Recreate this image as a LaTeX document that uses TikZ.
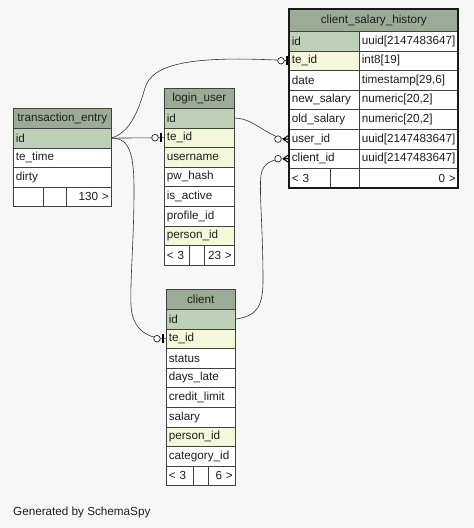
\documentclass[tikz,border=0pt]{standalone}
\usepackage{fontspec}
\setmainfont{Liberation Sans}
\definecolor{bgcol}{HTML}{F7F7F7}
\definecolor{hdrcol}{HTML}{9BAB96}
\definecolor{pkcol}{HTML}{BED1B8}
\definecolor{idxcol}{HTML}{F4F7DA}
\definecolor{inkcol}{HTML}{1E1E1E}
\tikzset{
  cell/.style={draw=black!75, line width=0.6pt, anchor=north west,
    inner xsep=2.5pt, inner ysep=0pt, minimum height=19.6pt,
    text width=#1, align=left, text=inkcol, fill=white,
    font=\fontsize{11.7}{13}\selectfont},
  hdr/.style={cell=#1, align=center, fill=hdrcol, minimum height=20pt},
  conn/.style={draw=black!80, line width=0.6pt},
  ring/.style={draw=black!85, line width=0.7pt, fill=white},
  onebar/.style={draw=black, line width=2pt},
  crow/.style={draw=black, line width=1pt}
}
\begin{document}
\begin{tikzpicture}[x=1pt,y=-1pt]
  \fill[bgcol] (0,0) rectangle (474,528);

  % transaction_entry
  \node[hdr=93pt] (te) at (13,108) {transaction\_entry};
  \foreach \t/\c [count=\i] in {id/pkcol, te\_time/white, dirty/white}
    \node[cell=93pt, fill=\c] (te-\i) at (13,{128+(\i-1)*19.6}) {\t};
  \node[cell=25pt] (te-f1) at (13,186.8) {};
  \node[cell=18pt] (te-f2) at (43,186.8) {};
  \node[cell=40pt, align=right] (te-f3) at (66,186.8) {130 >};

  % login_user
  \node[hdr=65pt] (lu) at (164,88) {login\_user};
  \foreach \t/\c [count=\i] in {id/pkcol, te\_id/idxcol, username/idxcol,
      pw\_hash/white, is\_active/white, profile\_id/white, person\_id/idxcol}
    \node[cell=65pt, fill=\c] (lu-\i) at (164,{108+(\i-1)*19.6}) {\t};
  \node[cell=20pt] (lu-f1) at (164,245.2) {< 3};
  \node[cell=10pt] (lu-f2) at (189,245.2) {};
  \node[cell=25pt, align=right] (lu-f3) at (204,245.2) {23 >};

  % client
  \node[hdr=64pt] (cl) at (166,289) {client};
  \foreach \t/\c [count=\i] in {id/pkcol, te\_id/idxcol, status/white,
      days\_late/white, credit\_limit/white, salary/white, person\_id/idxcol,
      category\_id/white}
    \node[cell=64pt, fill=\c] (cl-\i) at (166,{309+(\i-1)*19.6}) {\t};
  \node[cell=22pt] (cl-f1) at (166,465.8) {< 3};
  \node[cell=10pt] (cl-f2) at (193,465.8) {};
  \node[cell=22pt, align=right] (cl-f3) at (208,465.8) {6 >};

  % client_salary_history
  \node[hdr=164pt, minimum height=22pt] (csh) at (289,9) {client\_salary\_history};
  \foreach \t/\ty/\c [count=\i] in {id/uuid[2147483647]/pkcol,
      te\_id/int8[19]/idxcol, date/{timestamp[29,6]}/white,
      new\_salary/{numeric[20,2]}/white, old\_salary/{numeric[20,2]}/white,
      user\_id/uuid[2147483647]/white, client\_id/uuid[2147483647]/white}{
    \node[cell=65pt, fill=\c] (csh-\i) at (289,{31+(\i-1)*19.6}) {\t};
    \node[cell=94pt] (csh-t\i) at (359,{31+(\i-1)*19.6}) {\ty};
  }
  \node[cell=36pt] (csh-f1) at (289,168.2) {< 3};
  \node[cell=24pt] (csh-f2) at (330,168.2) {};
  \node[cell=94pt, align=right] (csh-f3) at (359,168.2) {0 >};

  % relations
  \draw[conn] (te-1.east) -- (lu-2.west);
  \draw[conn] (te-1.east) .. controls (130,132) and (138,112) .. (145,88)
    .. controls (152,64) and (190,55) .. (csh-2.west);
  \draw[conn] (te-1.east) .. controls (130,138) and (134,155) .. (134,190)
    .. controls (134,240) and (130,280) .. (131,305)
    .. controls (132,330) and (148,338.4) .. (cl-2.west);
  \draw[conn] (lu-1.east) .. controls (255,118) and (268,138.8) .. (csh-6.west);
  \draw[conn] (cl-1.east) .. controls (258,316) and (263,305) .. (263,280)
    .. controls (263,230) and (259,190) .. (261,175)
    .. controls (263,163) and (272,158.4) .. (csh-7.west);

  % zero or one
  \foreach \n/\cx/\bx in {lu-2/9pt/3pt, cl-2/9pt/3pt, csh-2/8pt/2.5pt}{
    \draw[onebar] ([xshift=-\bx, yshift=4.5pt]\n.west) -- ([xshift=-\bx, yshift=-4.5pt]\n.west);
    \draw[ring] ([xshift=-\cx]\n.west) circle [radius=3.3pt];
  }
  % zero or many
  \foreach \n in {csh-6, csh-7}{
    \draw[crow] ([xshift=-6pt]\n.west) -- ([yshift=4pt]\n.west)
      ([xshift=-6pt]\n.west) -- (\n.west)
      ([xshift=-6pt]\n.west) -- ([yshift=-4pt]\n.west);
    \draw[ring] ([xshift=-11pt]\n.west) circle [radius=3.3pt];
  }

  \draw[line width=2.6pt, draw=black!90] (289,9) rectangle (458,187.8);

  \node[anchor=west, inner sep=0pt, text=inkcol, font=\fontsize{11.7}{13}\selectfont]
    (gen) at (13,512) {Generated by SchemaSpy};
\end{tikzpicture}
\end{document}
